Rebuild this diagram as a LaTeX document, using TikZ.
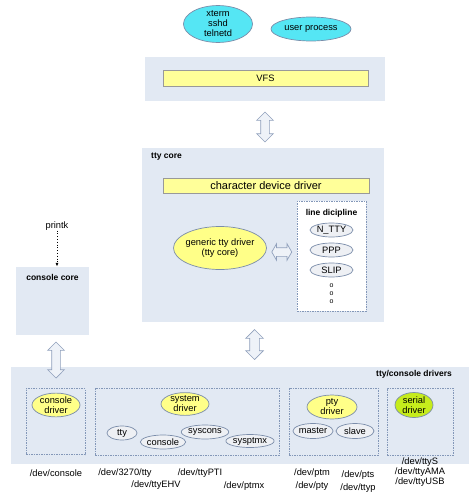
\documentclass[tikz,border=0pt]{standalone}
\usepackage{fontspec}
\setmainfont{Liberation Sans}
\usetikzlibrary{arrows.meta,shapes.geometric,shapes.arrows,calc}
\definecolor{panelbg}{HTML}{E2E9F3}
\definecolor{barfill}{HTML}{FFFF99}
\definecolor{cyanfill}{HTML}{55E6F4}
\definecolor{yellfill}{HTML}{FFFF88}
\definecolor{limefill}{HTML}{C6EC1C}
\definecolor{grayfill}{HTML}{EEF0F4}
\definecolor{ellline}{HTML}{7B8DAA}
\definecolor{dashline}{HTML}{8397B8}
\definecolor{arrfill}{HTML}{EEF2F8}
\definecolor{arrline}{HTML}{90A0BC}

\begin{document}
\begin{tikzpicture}[x=1pt, y=-1pt, >=Latex,
  every node/.style={align=center, inner sep=0pt, font=\fontsize{9.3}{10}\selectfont},
  panel/.style={rectangle, fill=panelbg},
  bar/.style={rectangle, fill=barfill, draw=gray!80, line width=0.8pt},
  dashbox/.style={rectangle, draw=dashline, dash pattern=on 1.5pt off 1pt, line width=0.6pt},
  ell/.style={ellipse, draw=ellline, line width=0.7pt},
  cyanell/.style={ell, fill=cyanfill},
  yellell/.style={ell, fill=yellfill},
  limeell/.style={ell, fill=limefill},
  grayell/.style={ell, fill=grayfill},
  lbl/.style={font=\fontsize{8.5}{10}\selectfont\bfseries},
  dblarrow/.style={double arrow, draw=arrline, fill=arrfill, line width=0.7pt,
    inner sep=4pt, double arrow head extend=4pt}]
\useasboundingbox (0,0) rectangle (474,503);

% user space
\node[cyanell, minimum width=69pt, minimum height=35pt] (xterm) at (218,24) {xterm\\sshd\\telnetd};
\node[cyanell, minimum width=80pt, minimum height=24pt] (uproc) at (311,29) {user process};

% VFS
\node[panel, minimum width=240pt, minimum height=44pt] (vfsbox) at (265,79) {};
\node[bar, minimum width=205pt, minimum height=16pt] (vfs) at (265.5,78) {VFS};

% tty core
\node[panel, minimum width=242pt, minimum height=174pt] (core) at (263,235) {};
\node[lbl, anchor=west] (corelbl) at (151,157) {tty core};
\node[bar, minimum width=206pt, minimum height=15pt, font=\fontsize{11}{12}\selectfont] (cdd) at (266,185.5) {character device driver};
\node[yellell, minimum width=93pt, minimum height=43pt, inner sep=-1.5pt] (generic) at (220,248) {generic tty driver\\(tty core)};
\node[dashbox, fill=white, minimum width=69pt, minimum height=110pt] (ldisc) at (331.5,256) {};
\node[lbl] (ldlbl) at (331.5,213) {line dicipline};
\node[grayell, minimum width=43pt, minimum height=14pt] (ntty) at (331.5,230) {N\_TTY};
\node[grayell, minimum width=43pt, minimum height=14pt] (ppp) at (331.5,250) {PPP};
\node[grayell, minimum width=43pt, minimum height=14pt] (slip) at (331.5,270) {SLIP};
\node[font=\fontsize{7}{8}\selectfont] (dots) at (331.5,294) {o\\o\\o};

% console core
\node (printk) at (57,226) {printk};
\node[panel, minimum width=73pt, minimum height=68pt] (concore) at (52.5,301) {};
\node[lbl] (conlbl) at (52.5,277) {console core};
\draw[dotted, thick, -{Latex[length=4pt]}] (printk.south) -- (printk.south |- concore.north);

% tty/console drivers
\node[panel, minimum width=458pt, minimum height=97pt] (drivers) at (240,415.5) {};
\node[lbl, anchor=east] (drvlbl) at (452,374) {tty/console drivers};

\node[dashbox, minimum width=59pt, minimum height=66pt] (conbox) at (55.5,421.5) {};
\node[yellell, minimum width=48pt, minimum height=21pt] (condrv) at (56,405) {console\\driver};

\node[dashbox, minimum width=184pt, minimum height=67pt] (sysbox) at (187,421.5) {};
\node[yellell, minimum width=48pt, minimum height=22pt] (sysdrv) at (185,404) {system\\driver};
\node[grayell, minimum width=30pt, minimum height=14pt] (tty) at (122,433) {tty};
\node[grayell, minimum width=38pt, minimum height=14pt] (console) at (163,442) {console};
\node[grayell, minimum width=38pt, minimum height=14pt] (syscons) at (205,432) {syscons};
\node[grayell, minimum width=37pt, minimum height=13pt] (sysptmx) at (250,441) {sysptmx};

\node[dashbox, minimum width=89pt, minimum height=67pt] (ptybox) at (333.5,421.5) {};
\node[yellell, minimum width=50pt, minimum height=24pt] (ptydrv) at (332,407) {pty\\driver};
\node[grayell, minimum width=38pt, minimum height=15pt] (master) at (313,431) {master};
\node[grayell, minimum width=38pt, minimum height=15pt] (slave) at (355,431) {slave};

\node[dashbox, minimum width=66pt, minimum height=67pt] (serbox) at (420,421.5) {};
\node[limeell, minimum width=38pt, minimum height=25pt] (serdrv) at (414,405) {serial\\driver};

% hollow arrows
\node[dblarrow, shape border rotate=90, minimum height=30pt] (a1) at (265,127) {};
\node[dblarrow, shape border rotate=90, minimum height=30pt, inner sep=4.5pt] (a2) at ($(core.south)!0.5!(drivers.north)+(3,0)$) {};
\node[dblarrow, shape border rotate=90, minimum height=36pt] (a3) at (56,360) {};
\node[dblarrow, minimum height=20pt, double arrow tip angle=120] (a4) at ($(generic.east)!0.5!(ldisc.west)$) {};

% device files
\node (dcon) at (56,473) {/dev/console};
\node (d3270) at (125,473) {/dev/3270/tty};
\node (dehv) at (156,485) {/dev/ttyEHV};
\node (dpti) at (200,473) {/dev/ttyPTI};
\node (dptmx) at (244,486) {/dev/ptmx};
\node (dptm) at (312,473) {/dev/ptm};
\node (dpty) at (312,486) {/dev/pty};
\node (dpts) at (358,475) {/dev/pts};
\node (dttyp) at (358,488) {/dev/ttyp};
\node (dttys) at (420,472) {/dev/ttyS\\/dev/ttyAMA\\/dev/ttyUSB};
\end{tikzpicture}
\end{document}
